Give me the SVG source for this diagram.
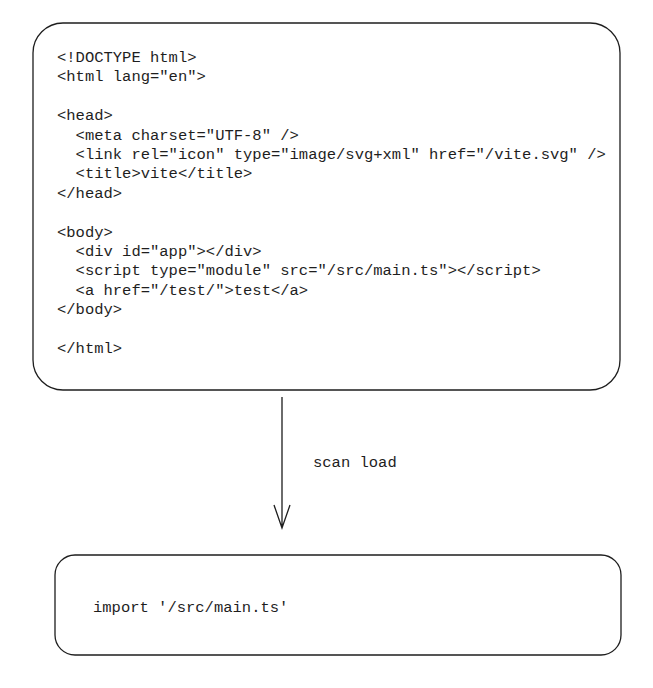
<svg xmlns="http://www.w3.org/2000/svg" width="653" height="688" viewBox="0 0 653 688">
<style>
.box{fill:none;stroke:#1e1e1e;stroke-width:1.3}
.t{font-family:"Liberation Mono","DejaVu Sans Mono",monospace;font-size:15.5px;fill:#1e1e1e;white-space:pre}
</style>
<rect width="653" height="688" fill="#fff"/>
<g id="html-node">
<rect class="box" x="33" y="23" width="587" height="367" rx="30"/>
<text class="t" xml:space="preserve">
<tspan x="57" y="62">&lt;!DOCTYPE html&gt;</tspan>
<tspan x="57" y="81.4">&lt;html lang="en"&gt;</tspan>
<tspan x="57" y="120.2">&lt;head&gt;</tspan>
<tspan x="57" y="139.6">  &lt;meta charset="UTF-8" /&gt;</tspan>
<tspan x="57" y="159">  &lt;link rel="icon" type="image/svg+xml" href="/vite.svg" /&gt;</tspan>
<tspan x="57" y="178.4">  &lt;title&gt;vite&lt;/title&gt;</tspan>
<tspan x="57" y="197.8">&lt;/head&gt;</tspan>
<tspan x="57" y="236.6">&lt;body&gt;</tspan>
<tspan x="57" y="256">  &lt;div id="app"&gt;&lt;/div&gt;</tspan>
<tspan x="57" y="275.4">  &lt;script type="module" src="/src/main.ts"&gt;&lt;/script&gt;</tspan>
<tspan x="57" y="294.8">  &lt;a href="/test/"&gt;test&lt;/a&gt;</tspan>
<tspan x="57" y="314.2">&lt;/body&gt;</tspan>
<tspan x="57" y="353">&lt;/html&gt;</tspan>
</text>
</g>
<g id="connectors">
<path class="box" d="M282 397 L282 528 M274 505 L282 528 L290 505"/>
<text class="t" x="313" y="467">scan load</text>
</g>
<g id="import-node">
<rect class="box" x="55" y="555" width="566" height="100" rx="20"/>
<text class="t" x="93" y="612">import '/src/main.ts'</text>
</g>
</svg>
